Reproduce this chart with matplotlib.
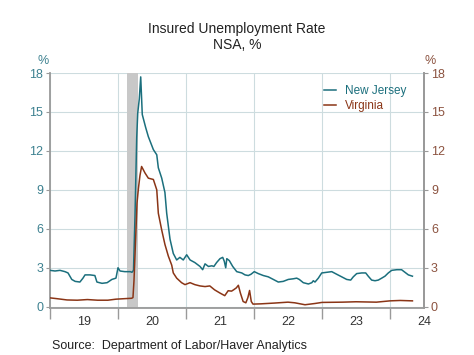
import matplotlib
matplotlib.use("Agg")
import matplotlib.pyplot as plt
import numpy as np

# ---- data (decimal years) ----
nj_t = [2019.00, 2019.074, 2019.147, 2019.22, 2019.265, 2019.32, 2019.37, 2019.44, 2019.485, 2019.515,
        2019.59, 2019.66, 2019.69, 2019.765, 2019.84, 2019.91, 2019.97, 2019.985, 2020.0, 2020.03,
        2020.10, 2020.18, 2020.205, 2020.228, 2020.25, 2020.275, 2020.29, 2020.313, 2020.334, 2020.357,
        2020.407, 2020.446, 2020.52, 2020.57, 2020.593, 2020.643, 2020.69, 2020.716, 2020.765, 2020.813,
        2020.863, 2020.91, 2020.96, 2021.01, 2021.06, 2021.13, 2021.206, 2021.245, 2021.28, 2021.33,
        2021.38, 2021.41, 2021.45, 2021.5, 2021.54, 2021.563, 2021.584, 2021.6, 2021.637, 2021.687,
        2021.746, 2021.82, 2021.868, 2021.916, 2021.956, 2022.004, 2022.063, 2022.137, 2022.21, 2022.284,
        2022.357, 2022.43, 2022.504, 2022.578, 2022.628, 2022.666, 2022.725, 2022.8, 2022.85, 2022.872,
        2022.897, 2022.946, 2022.996, 2023.07, 2023.143, 2023.216, 2023.29, 2023.363, 2023.422, 2023.46,
        2023.51, 2023.584, 2023.643, 2023.68, 2023.73, 2023.78, 2023.828, 2023.878, 2023.926, 2023.975,
        2024.025, 2024.1, 2024.17, 2024.22, 2024.27, 2024.33]
nj_v = [2.8, 2.75, 2.8, 2.7, 2.6, 2.1, 1.95, 1.9, 2.2, 2.45,
        2.45, 2.4, 1.9, 1.8, 1.85, 2.1, 2.2, 2.6, 3.0, 2.75,
        2.7, 2.7, 2.65, 2.8, 7.0, 13.0, 14.9, 16.0, 17.7, 14.8,
        13.8, 13.1, 12.1, 11.7, 10.7, 9.9, 8.8, 7.2, 5.2, 4.1,
        3.6, 3.8, 3.6, 4.0, 3.6, 3.4, 3.1, 2.85, 3.3, 3.1,
        3.15, 3.1, 3.4, 3.7, 3.8, 3.5, 3.0, 3.7, 3.55, 3.1,
        2.7, 2.6, 2.45, 2.4, 2.5, 2.7, 2.55, 2.4, 2.3, 2.1,
        1.9, 1.95, 2.1, 2.15, 2.2, 2.1, 1.85, 1.75, 1.85, 2.0,
        1.9, 2.2, 2.6, 2.65, 2.7, 2.5, 2.3, 2.1, 2.05, 2.3,
        2.55, 2.6, 2.6, 2.35, 2.05, 2.0, 2.05, 2.2, 2.35, 2.6,
        2.8, 2.85, 2.85, 2.65, 2.45, 2.35]

va_t = [2019.0, 2019.1, 2019.25, 2019.4, 2019.55, 2019.7, 2019.85, 2019.97, 2020.1, 2020.2,
        2020.22, 2020.235, 2020.25, 2020.28, 2020.30, 2020.323, 2020.347, 2020.397, 2020.446, 2020.52,
        2020.57, 2020.593, 2020.643, 2020.69, 2020.74, 2020.79, 2020.813, 2020.863, 2020.935, 2020.985,
        2021.06, 2021.13, 2021.206, 2021.28, 2021.35, 2021.42, 2021.5, 2021.57, 2021.62, 2021.67,
        2021.7, 2021.74, 2021.77, 2021.8, 2021.84, 2021.88, 2021.91, 2021.935, 2021.96, 2021.985,
        2022.1, 2022.3, 2022.5, 2022.6, 2022.75, 2022.9, 2023.0, 2023.3, 2023.5, 2023.8,
        2024.0, 2024.15, 2024.33]
va_v = [0.68, 0.62, 0.52, 0.5, 0.55, 0.5, 0.5, 0.58, 0.62, 0.65,
        0.7, 2.0, 4.0, 8.0, 9.1, 10.1, 10.8, 10.3, 9.9, 9.8,
        9.0, 7.2, 5.9, 4.8, 3.9, 3.2, 2.6, 2.2, 1.85, 1.7,
        1.85, 1.7, 1.6, 1.55, 1.6, 1.3, 1.05, 0.85, 1.23, 1.2,
        1.3, 1.45, 1.65, 1.05, 0.4, 0.3, 0.7, 1.25, 0.4, 0.2,
        0.22, 0.28, 0.35, 0.3, 0.15, 0.25, 0.33, 0.35, 0.38, 0.35,
        0.45, 0.48, 0.45]

recession = (2020.125, 2020.29)
year_ticks = [2019, 2020, 2021, 2022, 2023, 2024]
year_labels = ["19", "20", "21", "22", "23", "24"]
y_ticks = [0, 3, 6, 9, 12, 15, 18]

NJ_COLOR = "#1b6f7d"
VA_COLOR = "#8a3516"
LEFT_TXT = "#3d8190"
RIGHT_TXT = "#8c5340"
GRID = "#cddcdf"
SPINE = "#9a9a9a"

plt.rcParams['font.family'] = ['Liberation Sans', 'DejaVu Sans']

fig = plt.figure(figsize=(4.74, 3.55), dpi=100)
ax = fig.add_axes([50/474, 47/355, 374/474, 235/355])

ax.axvspan(recession[0], recession[1], color="#c8c8c8", lw=0, zorder=1)
ax.plot(nj_t, nj_v, color=NJ_COLOR, lw=1.1, label="New Jersey", zorder=3)
ax.plot(va_t, va_v, color=VA_COLOR, lw=1.1, label="Virginia", zorder=3)

ax.set_xlim(2019, 2024.5)
ax.set_ylim(-0.1, 18)
ax.set_yticks(y_ticks)
ax.set_xticks(year_ticks)
ax.set_xticklabels([])
ax.set_xticks([y + 0.5 for y in year_ticks], minor=True)
ax.set_xticklabels(year_labels, minor=True)
ax.tick_params(axis='x', which='minor', length=0, pad=6, labelsize=9, labelcolor="#333333")
ax.tick_params(axis='x', which='major', length=8, color=SPINE, width=1)
ax.tick_params(axis='y', length=3, color=SPINE, labelsize=9, labelcolor=LEFT_TXT, pad=2)
ax.grid(True, which='major', color=GRID, lw=0.8, zorder=0)
ax.set_axisbelow(True)

ax.spines['top'].set_visible(False)
for s in ['left', 'right', 'bottom']:
    ax.spines[s].set_color(SPINE)
    ax.spines[s].set_linewidth(1.3)

ax2 = ax.twinx()
ax2.set_ylim(ax.get_ylim())
ax2.set_yticks(y_ticks)
ax2.tick_params(axis='y', length=3, color=SPINE, labelsize=9, labelcolor=RIGHT_TXT, pad=2)
for s in ['top', 'left', 'bottom']:
    ax2.spines[s].set_visible(False)
ax2.spines['right'].set_color(SPINE)
ax2.spines['right'].set_linewidth(1.3)

leg = ax.legend(loc='upper left', bbox_to_anchor=(0.72, 0.97), frameon=False, fontsize=8.5,
                handlelength=1.0, handletextpad=0.8, labelspacing=0.25, borderaxespad=0)
for txt, c in zip(leg.get_texts(), [NJ_COLOR, VA_COLOR]):
    txt.set_color(c)

fig.text(43/474, 1 - 61/355, "%", color=LEFT_TXT, fontsize=9, ha='center', va='center')
fig.text(430/474, 1 - 61/355, "%", color=RIGHT_TXT, fontsize=9, ha='center', va='center')
fig.text(0.5, 1 - 29/355, "Insured Unemployment Rate", fontsize=10, ha='center', va='center', color="#222222")
fig.text(0.5, 1 - 45/355, "NSA, %", fontsize=10, ha='center', va='center', color="#222222")
fig.text(52/474, 1 - 346/355, "Source:  Department of Labor/Haver Analytics", fontsize=9,
         ha='left', va='center', color="#222222")

fig.savefig("out.png", dpi=100)
